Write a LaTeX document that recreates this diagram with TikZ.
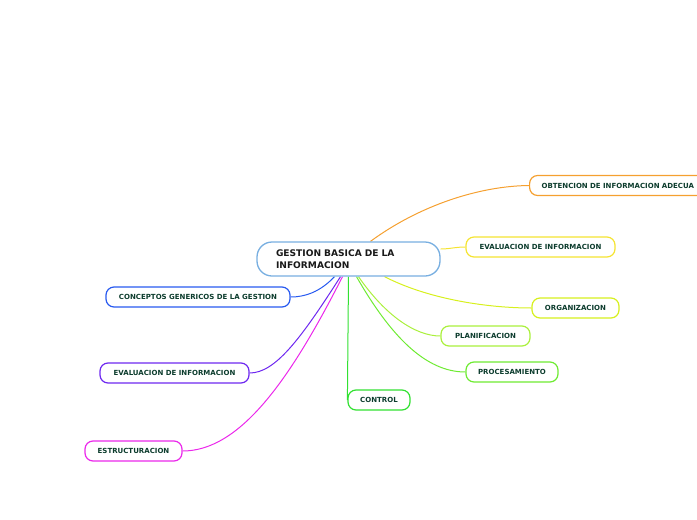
\documentclass[tikz,border=0pt]{standalone}
\usepackage{fontspec}
\newfontfamily\mapfont{DejaVu Sans}
\usetikzlibrary{calc,backgrounds}
\definecolor{rootline}{RGB}{120,175,225}
\definecolor{txtgreen}{RGB}{12,60,45}
\definecolor{corange}{RGB}{245,160,48}
\definecolor{cyellow}{RGB}{245,228,50}
\definecolor{clime}{RGB}{215,240,30}
\definecolor{clight}{RGB}{170,240,60}
\definecolor{cgreen}{RGB}{110,235,50}
\definecolor{cdark}{RGB}{50,225,50}
\definecolor{cblue}{RGB}{40,90,240}
\definecolor{cpurple}{RGB}{110,40,240}
\definecolor{cmagenta}{RGB}{235,40,235}
\tikzset{
  topic/.style={rectangle,draw=rootline,fill=white,line width=1.3pt,rounded corners=15pt,
    minimum width=183pt,minimum height=34pt,text width=145pt,align=left,
    font=\mapfont\bfseries\fontsize{9.1}{12}\selectfont,text=black!90},
  sub/.style={rectangle,fill=white,line width=1.2pt,rounded corners=8pt,
    minimum height=20pt,inner xsep=0pt,align=center,
    font=\mapfont\bfseries\fontsize{7}{8}\selectfont,text=txtgreen},
  link/.style={line width=1pt},
}
\begin{document}
\begin{tikzpicture}[x=1pt,y=-1pt]
  \useasboundingbox (0,0) rectangle (697,520);
  \clip (0,0) rectangle (697,520);
  \node[topic] (root) at (348.5,259) {GESTION BASICA DE LA\\INFORMACION};
  % right side
  \node[sub,draw=corange,anchor=west,inner xsep=12pt,minimum width=190pt,align=left,text width=175pt] (obt) at (529,185.5) {OBTENCION DE INFORMACION ADECUA};
  \node[sub,draw=cyellow,minimum width=149pt] (evr) at (540.5,247) {EVALUACION DE INFORMACION};
  \node[sub,draw=clime,minimum width=87pt] (org) at (575.5,308) {ORGANIZACION};
  \node[sub,draw=clight,minimum width=89pt] (pla) at (485.5,336) {PLANIFICACION};
  \node[sub,draw=cgreen,minimum width=92pt] (pro) at (512,372) {PROCESAMIENTO};
  \node[sub,draw=cdark,minimum width=62pt] (ctl) at (379,400) {CONTROL};
  % left side
  \node[sub,draw=cblue,minimum width=184pt] (cgg) at (198,297) {CONCEPTOS GENERICOS DE LA GESTION};
  \node[sub,draw=cpurple,minimum width=149pt] (evl) at (174.5,373) {EVALUACION DE INFORMACION};
  \node[sub,draw=cmagenta,minimum width=97pt] (est) at (133.5,451) {ESTRUCTURACION};
  \begin{scope}[on background layer]
    \draw[link,corange] ([xshift=22pt]root.north) .. controls (420,205) and (480,186) .. (obt.west);
    \draw[link,cyellow] ([yshift=10pt]root.east) .. controls (450,249) and (455,247) .. (evr.west);
    \draw[link,clime] ([xshift=36pt]root.south) .. controls (430,300) and (490,308) .. (org.west);
    \draw[link,clight] ([xshift=10pt]root.south) .. controls (385,315) and (415,336) .. (pla.west);
    \draw[link,cgreen] ([xshift=8pt]root.south) .. controls (390,335) and (425,372) .. (pro.west);
    \draw[link,cdark] (root.south) -- (ctl.west);
    \draw[link,cblue] ([xshift=-14pt]root.south) .. controls (320,292) and (305,297) .. (cgg.east);
    \draw[link,cpurple] ([xshift=-8pt]root.south) .. controls (300,340) and (275,373) .. (evl.east);
    \draw[link,cmagenta] ([xshift=-6pt]root.south) .. controls (290,380) and (240,451) .. (est.east);
  \end{scope}
\end{tikzpicture}
\end{document}
